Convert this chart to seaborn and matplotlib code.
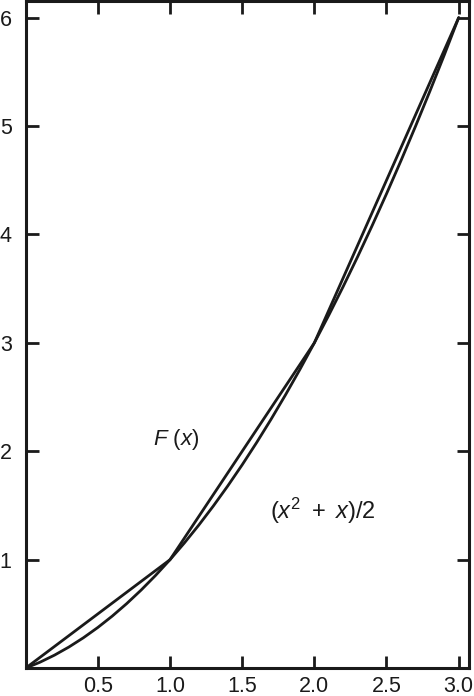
import matplotlib
matplotlib.use("Agg")
import matplotlib.pyplot as plt
import seaborn as sns
import pandas as pd

# piecewise linear F(x)
step_x = [0.0, 1.0, 2.0, 3.0]
step_y = [0.0, 1.0, 3.0, 6.0]

curve_x = [0.0, 0.1, 0.2, 0.3, 0.4, 0.5, 0.6, 0.7, 0.8, 0.9, 1.0,
           1.1, 1.2, 1.3, 1.4, 1.5, 1.6, 1.7, 1.8, 1.9, 2.0,
           2.1, 2.2, 2.3, 2.4, 2.5, 2.6, 2.7, 2.8, 2.9, 3.0]
curve_y = [0.0, 0.055, 0.12, 0.195, 0.28, 0.375, 0.48, 0.595, 0.72, 0.855, 1.0,
           1.155, 1.32, 1.495, 1.68, 1.875, 2.08, 2.295, 2.52, 2.755, 3.0,
           3.255, 3.52, 3.795, 4.08, 4.375, 4.68, 4.995, 5.32, 5.655, 6.0]

x_ticks = [0.5, 1.0, 1.5, 2.0, 2.5, 3.0]
y_ticks = [1, 2, 3, 4, 5, 6]

sns.set_style("ticks")
plt.rcParams["font.family"] = ["Liberation Sans", "DejaVu Sans"]
plt.rcParams["mathtext.fontset"] = "custom"
plt.rcParams["mathtext.it"] = "Liberation Sans:italic"
plt.rcParams["mathtext.rm"] = "Liberation Sans"

fig = plt.figure(figsize=(4.74, 6.96), dpi=100)
ax = fig.add_axes([0.054, 0.040, 0.935, 0.958])

df_step = pd.DataFrame({"x": step_x, "y": step_y})
df_curve = pd.DataFrame({"x": curve_x, "y": curve_y})
sns.lineplot(data=df_step, x="x", y="y", color="#1a1a1a", linewidth=2.0, sort=False, ax=ax)
sns.lineplot(data=df_curve, x="x", y="y", color="#1a1a1a", linewidth=2.0, sort=False, ax=ax)

ax.set_xlim(0, 3.07)
ax.set_ylim(0, 6.15)
ax.set_xticks(x_ticks)
ax.set_xticklabels(["0.5", "1.0", "1.5", "2.0", "2.5", "3.0"])
ax.set_yticks(y_ticks)
ax.set_yticklabels([str(v) for v in y_ticks])
ax.set_xlabel("")
ax.set_ylabel("")

ax.tick_params(direction="in", length=9, width=2, top=True, right=True,
               labelsize=15.5, colors="#1a1a1a")
ax.tick_params(axis="x", pad=6)
ax.tick_params(axis="y", pad=10)
for s in ax.spines.values():
    s.set_linewidth(2.2)
    s.set_color("#1a1a1a")

ax.text(0.88, 2.11, r"$F\ (x)$", fontsize=16, va="center", ha="left", color="#1a1a1a")
ax.text(1.69, 1.45, r"$(x^{2}\ +\ x)/2$", fontsize=17, va="center", ha="left", color="#1a1a1a")

fig.savefig("out.png", dpi=100)
